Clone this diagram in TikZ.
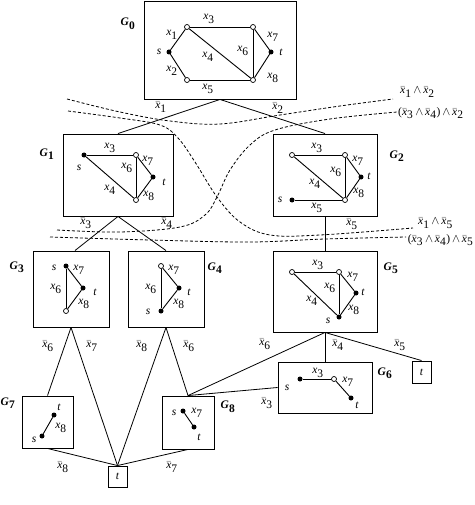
\documentclass[tikz,border=0pt]{standalone}
\usepackage{fontspec}
\setmainfont{Liberation Serif}
\usetikzlibrary{calc}
\newcommand{\vx}[1]{$\textit{x}_{\textrm{#1}}$}
\newcommand{\vnx}[1]{$\bar{\textit{x}}_{\textrm{#1}}$}
\newcommand{\gl}[1]{\textbf{\textit{G}}$_{\textbf{#1}}$}
\begin{document}
\begin{tikzpicture}[x=1pt,y=-1pt,
  every node/.style={font=\fontsize{11.5}{13}\selectfont},
  gbox/.style={draw, line width=0.9pt, inner sep=0},
  fv/.style={circle, fill=black, inner sep=0, minimum size=5pt},
  ov/.style={circle, draw, fill=white, line width=0.7pt, inner sep=0, minimum size=5pt},
  ge/.style={line width=0.9pt},
  conn/.style={line width=0.8pt},
  dsh/.style={line width=0.8pt, dash pattern=on 3pt off 2pt},
  lab/.style={inner sep=0}]
\useasboundingbox (0,0) rectangle (474,505);
\fill[white] (0,0) rectangle (474,505);
% boxes
\node[gbox, minimum width=152pt, minimum height=98pt] (G0) at (220,50) {};
\node[gbox, minimum width=110pt, minimum height=82pt] (G1) at (118,175) {};
\node[gbox, minimum width=104pt, minimum height=82pt] (G2) at (325,175) {};
\node[gbox, minimum width=76pt, minimum height=76pt] (G3) at (71,289) {};
\node[gbox, minimum width=76pt, minimum height=76pt] (G4) at (166,289) {};
\node[gbox, minimum width=104pt, minimum height=81pt] (G5) at (325,291.5) {};
\node[gbox, minimum width=94pt, minimum height=51pt] (G6) at (325,387.5) {};
\node[gbox, minimum width=19pt, minimum height=22pt] (tR) at (421.5,372) {\textit{t}};
\node[gbox, minimum width=51pt, minimum height=52pt] (G7) at (47.5,422) {};
\node[gbox, minimum width=52pt, minimum height=53pt] (G8) at (188,422.5) {};
\node[gbox, minimum width=19pt, minimum height=21pt] (tB) at (117.5,476.5) {\textit{t}};
% connectors
\draw[conn] (G0.south) -- (G1.north);
\draw[conn] (G0.south) -- (G2.north);
\draw[conn] (G1.south) -- ($(G3.north)+(4,0)$);
\draw[conn] (G1.south) -- (G4.north);
\draw[conn] (G2.south) -- (G5.north);
\draw[conn] (G3.south) -- (G7.north);
\draw[conn] (G3.south) -- (tB.north);
\draw[conn] (G4.south) -- (tB.north);
\draw[conn] (G4.south) -- (G8.north);
\draw[conn] (G5.south) -- (G8.north);
\draw[conn] (G5.south) -- (G6.north);
\draw[conn] (G5.south) -- (tR.north);
\draw[conn] (G6.west) -- (G8.north);
\draw[conn] (G7.south) -- (tB.north);
\draw[conn] (G8.south) -- (tB.north);
% dashed curves
\draw[dsh] plot[smooth, tension=0.6] coordinates {(67,99) (120,112) (170,121) (220,124) (280,115) (340,106) (393,99)};
\draw[dsh] plot[smooth, tension=0.6] coordinates {(68,111) (120,118) (160,125) (178,138) (195,162) (217,197) (240,222) (270,235) (320,235) (413,228)};
\draw[dsh] plot[smooth, tension=0.6] coordinates {(57,230) (120,232) (180,227) (205,215) (217,197) (230,170) (250,145) (275,130) (330,119) (397,112)};
\draw[dsh] plot[smooth, tension=0.6] coordinates {(50,237) (150,240) (250,242) (325,239) (406,237)};
% dashed labels
\node[lab, anchor=west] (L1) at (400,92) {\vnx{1}\,$\wedge$\,\vnx{2}};
\node[lab, anchor=west] (L2) at (398,113) {(\vnx{3}\,$\wedge$\,\vnx{4})\,$\wedge$\,\vnx{2}};
\node[lab, anchor=west] (L3) at (418,223) {\vnx{1}\,$\wedge$\,\vnx{5}};
\node[lab, anchor=east] (L4) at (473.5,240) {(\vnx{3}\,$\wedge$\,\vnx{4})\,$\wedge$\,\vnx{5}};
% G labels
\node[lab] (g0l) at (128,24) {\gl{0}};
\node[lab] (g1l) at (47,154) {\gl{1}};
\node[lab] (g2l) at (397,156) {\gl{2}};
\node[lab] (g3l) at (17,267) {\gl{3}};
\node[lab] (g4l) at (215,268) {\gl{4}};
\node[lab] (g5l) at (391,268) {\gl{5}};
\node[lab] (g6l) at (385,373) {\gl{6}};
\node[lab] (g7l) at (8,403) {\gl{7}};
\node[lab] (g8l) at (228,407) {\gl{8}};
% connector labels
\node[lab] (e1) at (161,107) {\vnx{1}};
\node[lab] (e2) at (278,108) {\vnx{2}};
\node[lab] (e3) at (86,223) {\vnx{3}};
\node[lab] (e4) at (167,223) {\vnx{4}};
\node[lab] (e5) at (352,224) {\vnx{5}};
\node[lab] (e6) at (48,346) {\vnx{6}};
\node[lab] (e7) at (92,346) {\vnx{7}};
\node[lab] (e8) at (142,346) {\vnx{8}};
\node[lab] (e9) at (189,346) {\vnx{6}};
\node[lab] (e10) at (265,344) {\vnx{6}};
\node[lab] (e11) at (338,345) {\vnx{4}};
\node[lab] (e12) at (400,345) {\vnx{5}};
\node[lab] (e13) at (267,403) {\vnx{3}};
\node[lab] (e14) at (63,467) {\vnx{8}};
\node[lab] (e15) at (172,467) {\vnx{7}};
% ---------- G0
\node[fv] (s0) at (169,52) {};
\node[ov] (a0) at (187,27) {};
\node[ov] (b0) at (253,27) {};
\node[fv] (t0) at (271,52) {};
\node[ov] (c0) at (187,80) {};
\node[ov] (d0) at (253,80) {};
\draw[ge] (s0) -- (a0); \draw[ge] (a0) -- (b0); \draw[ge] (a0) -- (d0);
\draw[ge] (b0) -- (d0); \draw[ge] (b0) -- (t0); \draw[ge] (t0) -- (d0);
\draw[ge] (s0) -- (c0); \draw[ge] (c0) -- (d0);
\node[lab] at (209,19) {\vx{3}};
\node[lab] at (172,35) {\vx{1}};
\node[lab] at (159,52) {\textit{s}};
\node[lab] at (208,57) {\vx{4}};
\node[lab] at (243,51) {\vx{6}};
\node[lab] at (273,37) {\vx{7}};
\node[lab] at (281,52) {\textit{t}};
\node[lab] at (172,71) {\vx{2}};
\node[lab] at (273,78) {\vx{8}};
\node[lab] at (208,89) {\vx{5}};
% ---------- G1
\node[fv] (s1) at (84,155) {};
\node[ov] (a1) at (136,155) {};
\node[fv] (t1) at (153,177) {};
\node[ov] (b1) at (136,200) {};
\draw[ge] (s1) -- (a1); \draw[ge] (s1) -- (b1); \draw[ge] (a1) -- (b1);
\draw[ge] (a1) -- (t1); \draw[ge] (t1) -- (b1);
\node[lab] at (110,148) {\vx{3}};
\node[lab] at (79,168) {\textit{s}};
\node[lab] at (127,168) {\vx{6}};
\node[lab] at (148,161) {\vx{7}};
\node[lab] at (164,182) {\textit{t}};
\node[lab] at (110,190) {\vx{4}};
\node[lab] at (149,196) {\vx{8}};
% ---------- G2
\node[ov] (a2) at (292,155) {};
\node[ov] (b2) at (345,155) {};
\node[fv] (t2) at (361,177) {};
\node[ov] (c2) at (345,200) {};
\node[fv] (s2) at (292,200) {};
\draw[ge] (a2) -- (b2); \draw[ge] (a2) -- (c2); \draw[ge] (b2) -- (c2);
\draw[ge] (b2) -- (t2); \draw[ge] (t2) -- (c2); \draw[ge] (s2) -- (c2);
\node[lab] at (317,148) {\vx{3}};
\node[lab] at (336,172) {\vx{6}};
\node[lab] at (358,161) {\vx{7}};
\node[lab] at (369,176) {\textit{t}};
\node[lab] at (315,184) {\vx{4}};
\node[lab] at (359,193) {\vx{8}};
\node[lab] at (280,200) {\textit{s}};
\node[lab] at (317,208) {\vx{5}};
% ---------- G3
\node[fv] (s3) at (66,266) {};
\node[fv] (t3) at (83,288) {};
\node[ov] (b3) at (66,311) {};
\draw[ge] (s3) -- (b3); \draw[ge] (s3) -- (t3); \draw[ge] (t3) -- (b3);
\node[lab] at (54,268) {\textit{s}};
\node[lab] at (79,270) {\vx{7}};
\node[lab] at (56,289) {\vx{6}};
\node[lab] at (95,292) {\textit{t}};
\node[lab] at (84,304) {\vx{8}};
% ---------- G4
\node[ov] (a4) at (161,266) {};
\node[fv] (t4) at (179,288) {};
\node[fv] (s4) at (161,311) {};
\draw[ge] (a4) -- (s4); \draw[ge] (a4) -- (t4); \draw[ge] (t4) -- (s4);
\node[lab] at (174,270) {\vx{7}};
\node[lab] at (151,289) {\vx{6}};
\node[lab] at (189,292) {\textit{t}};
\node[lab] at (179,304) {\vx{8}};
\node[lab] at (148,312) {\textit{s}};
% ---------- G5
\node[ov] (a5) at (292,272) {};
\node[ov] (b5) at (339,272) {};
\node[fv] (t5) at (356,293) {};
\node[fv] (s5) at (339,317) {};
\draw[ge] (a5) -- (b5); \draw[ge] (a5) -- (s5); \draw[ge] (b5) -- (s5);
\draw[ge] (b5) -- (t5); \draw[ge] (t5) -- (s5);
\node[lab] at (318,265) {\vx{3}};
\node[lab] at (353,277) {\vx{7}};
\node[lab] at (330,288) {\vx{6}};
\node[lab] at (363,292) {\textit{t}};
\node[lab] at (312,301) {\vx{4}};
\node[lab] at (354,310) {\vx{8}};
\node[lab] at (328,321) {\textit{s}};
% ---------- G6
\node[fv] (s6) at (300,379) {};
\node[ov] (a6) at (334,379) {};
\node[fv] (t6) at (351,398) {};
\draw[ge] (s6) -- (a6); \draw[ge] (a6) -- (t6);
\node[lab] at (318,373) {\vx{3}};
\node[lab] at (348,382) {\vx{7}};
\node[lab] at (287,388) {\textit{s}};
\node[lab] at (357,405) {\textit{t}};
% ---------- G7
\node[fv] (t7) at (54,415) {};
\node[fv] (s7) at (42,436) {};
\draw[ge] (s7) -- (t7);
\node[lab] at (59,407) {\textit{t}};
\node[lab] at (61,428) {\vx{8}};
\node[lab] at (34,440) {\textit{s}};
% ---------- G8
\node[fv] (s8) at (183,411) {};
\node[fv] (t8) at (194,427) {};
\draw[ge] (s8) -- (t8);
\node[lab] at (174,413) {\textit{s}};
\node[lab] at (197,413) {\vx{7}};
\node[lab] at (199,437) {\textit{t}};
\end{tikzpicture}
\end{document}
